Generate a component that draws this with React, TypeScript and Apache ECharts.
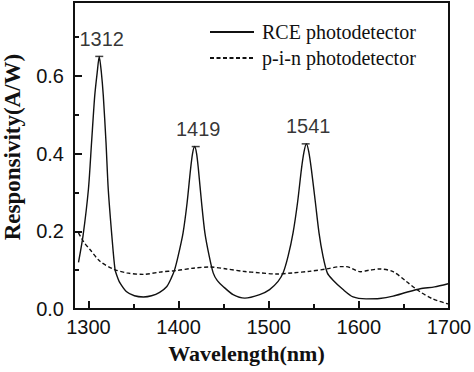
import React, { useEffect, useRef } from "react";
import * as echarts from "echarts";

const rcePoints: [number, number][] = [
  [1289, 0.12], [1294, 0.188], [1300, 0.308], [1303.5, 0.429], [1307, 0.549],
  [1309.8, 0.61], [1312, 0.65], [1314.3, 0.61], [1316.5, 0.549], [1319.5, 0.429],
  [1322, 0.308], [1326, 0.188], [1329.5, 0.102], [1332.5, 0.08], [1335.5, 0.065],
  [1342, 0.045], [1351, 0.034], [1361, 0.031], [1370, 0.034], [1379, 0.043],
  [1387, 0.058], [1392, 0.08], [1395.5, 0.1], [1399.5, 0.136], [1405, 0.196],
  [1409.5, 0.274], [1413.3, 0.36], [1415.5, 0.4], [1417.8, 0.418], [1420, 0.4],
  [1422, 0.36], [1425.5, 0.274], [1429.2, 0.196], [1434, 0.136], [1438.4, 0.093],
  [1443, 0.073], [1449.4, 0.058], [1460.5, 0.037], [1473.5, 0.028], [1490, 0.037],
  [1501, 0.05], [1510.4, 0.071], [1516, 0.093], [1521.5, 0.136], [1527, 0.196],
  [1532, 0.274], [1536.3, 0.36], [1539.2, 0.405], [1541.8, 0.425], [1544.4, 0.405],
  [1547.3, 0.36], [1551.8, 0.274], [1555.8, 0.196], [1560.2, 0.136], [1565, 0.093],
  [1571.4, 0.074], [1582.5, 0.05], [1593.6, 0.031], [1608, 0.026], [1623, 0.027],
  [1638, 0.033], [1653, 0.043], [1668, 0.052], [1684, 0.057], [1699, 0.065],
];

const pinPoints: [number, number][] = [
  [1289, 0.196], [1295, 0.172], [1301.7, 0.153], [1312.8, 0.123], [1327.5, 0.103],
  [1342.4, 0.093], [1360.8, 0.089], [1379.3, 0.095], [1397.8, 0.099], [1416.2, 0.105],
  [1434.7, 0.108], [1453.2, 0.103], [1471.6, 0.097], [1490, 0.093], [1508.6, 0.09],
  [1527, 0.093], [1545.5, 0.097], [1564, 0.103], [1580, 0.109], [1586, 0.109],
  [1601.8, 0.096], [1612, 0.1], [1623, 0.103], [1638, 0.096], [1652.6, 0.071],
  [1667.4, 0.045], [1682, 0.026], [1699, 0.013],
];

const peakWavelengths = [1312, 1419, 1541];
const peakValues = [0.65, 0.418, 0.425];

const xTickValues = [1300, 1400, 1500, 1600, 1700];
const xMinorTickValues = [1350, 1450, 1550, 1650];
const yTickValues = [0, 0.2, 0.4, 0.6];
const yMinorTickValues = [0.1, 0.3, 0.5, 0.7];

const X_MIN = 1284;
const X_MAX = 1700;
const Y_MIN = 0;
const Y_MAX = 0.79;

const seriesNames = ["RCE photodetector", "p-i-n photodetector"];

export default function App() {
  const ref = useRef<HTMLDivElement>(null);

  useEffect(() => {
    if (!ref.current) return;
    const chart = echarts.init(ref.current, null, { renderer: "svg" });
    const ink = "#111";
    const sans = "'Liberation Sans', Arial, sans-serif";
    const serif = "'Liberation Serif', 'Times New Roman', serif";

    const option: any = {
      animation: false,
      backgroundColor: "#fff",
      grid: {
        left: 74,
        right: 25,
        top: 2,
        bottom: 63,
        show: true,
        borderColor: ink,
        borderWidth: 2,
        backgroundColor: "transparent",
        containLabel: false,
        outerBoundsMode: "none",
      },
      legend: {
        data: seriesNames,
        orient: "vertical",
        left: 209,
        top: 22,
        padding: 0,
        itemWidth: 44,
        itemHeight: 20,
        itemGap: 6,
        itemStyle: { color: "rgba(0,0,0,0)", borderColor: "rgba(0,0,0,0)", borderWidth: 0, opacity: 0 },
        textStyle: {
          fontFamily: serif,
          fontSize: 20,
          color: ink,
          padding: [0, 0, 0, 3],
        },
      },
      xAxis: [
        {
          type: "value",
          min: X_MIN,
          max: X_MAX,
          name: "Wavelength(nm)",
          nameLocation: "middle",
          nameGap: 33,
          nameTextStyle: {
            fontFamily: serif,
            fontWeight: "bold",
            fontSize: 22,
            color: ink,
            padding: [0, 30, 0, 0],
          },
          axisLine: { show: true, lineStyle: { color: ink, width: 2 } },
          axisTick: {
            show: true,
            inside: true,
            length: 8,
            lineStyle: { color: ink, width: 2 },
            customValues: xTickValues,
          },
          axisLabel: {
            fontFamily: sans,
            fontSize: 20,
            color: ink,
            margin: 8,
            customValues: xTickValues,
            formatter: (v: number) => String(v),
          },
          splitLine: { show: false },
        },
        {
          type: "value",
          min: X_MIN,
          max: X_MAX,
          position: "bottom",
          axisLine: { show: false },
          axisTick: {
            show: true,
            inside: true,
            length: 5,
            lineStyle: { color: ink, width: 2 },
            customValues: xMinorTickValues,
          },
          axisLabel: { show: false },
          splitLine: { show: false },
        },
      ],
      yAxis: [
        {
          type: "value",
          min: Y_MIN,
          max: Y_MAX,
          name: "Responsivity(A/W)",
          nameLocation: "middle",
          nameGap: 50,
          nameTextStyle: {
            fontFamily: serif,
            fontWeight: "bold",
            fontSize: 23,
            color: ink,
            padding: [0, 0, 0, 17],
          },
          axisLine: { show: true, lineStyle: { color: ink, width: 2 } },
          axisTick: {
            show: true,
            inside: true,
            length: 8,
            lineStyle: { color: ink, width: 2 },
            customValues: yTickValues,
          },
          axisLabel: {
            fontFamily: sans,
            fontSize: 20,
            color: ink,
            margin: 10,
            customValues: yTickValues,
            formatter: (v: number) => v.toFixed(1),
          },
          splitLine: { show: false },
        },
        {
          type: "value",
          min: Y_MIN,
          max: Y_MAX,
          position: "left",
          axisLine: { show: false },
          axisTick: {
            show: true,
            inside: true,
            length: 5,
            lineStyle: { color: ink, width: 2 },
            customValues: yMinorTickValues,
          },
          axisLabel: { show: false },
          splitLine: { show: false },
        },
      ],
      series: [
        {
          name: seriesNames[0],
          type: "line",
          xAxisIndex: 0,
          yAxisIndex: 0,
          data: rcePoints,
          smooth: 0.25,
          symbol: "none",
          showSymbol: false,
          lineStyle: { color: ink, width: 1.4, type: "solid" },
          itemStyle: { color: ink },
        },
        {
          name: seriesNames[1],
          type: "line",
          xAxisIndex: 0,
          yAxisIndex: 0,
          data: pinPoints,
          smooth: 0.3,
          symbol: "none",
          showSymbol: false,
          lineStyle: { color: ink, width: 1.4, type: [4, 2.5] },
          itemStyle: { color: ink },
        },
        {
          name: "peaks",
          type: "scatter",
          xAxisIndex: 0,
          yAxisIndex: 0,
          data: peakWavelengths.map((w, i) => [w, peakValues[i]]),
          symbol: "rect",
          symbolSize: [8, 1.5],
          itemStyle: { color: ink },
          label: {
            show: true,
            position: "top",
            distance: 7,
            offset: [2.5, 0],
            fontFamily: sans,
            fontSize: 20,
            color: "#000",
            formatter: (p: any) => String(p.value[0]),
          },
          z: 5,
        },
      ],
    };

    chart.setOption(option);
    return () => chart.dispose();
  }, []);

  return (
    <div
      ref={ref}
      style={{ position: "absolute", left: 0, top: 0, width: 474, height: 372, background: "#fff" }}
    />
  );
}
